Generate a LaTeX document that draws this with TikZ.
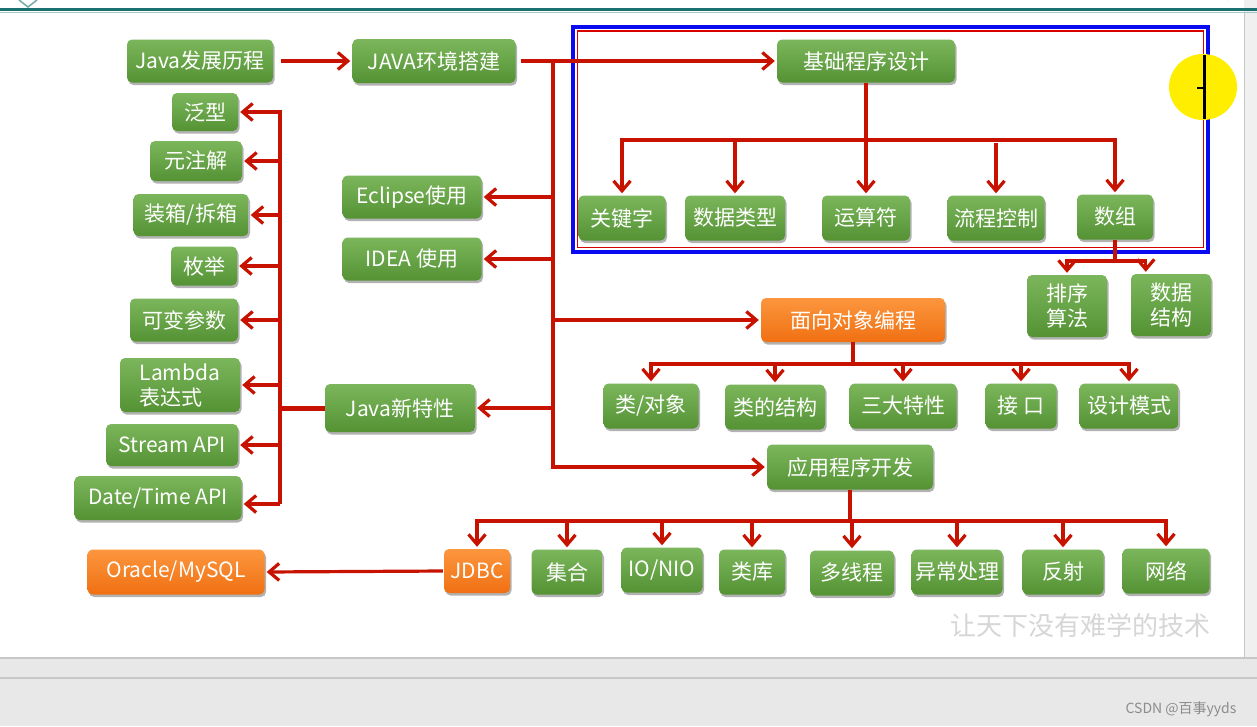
\documentclass[tikz,border=0pt]{standalone}
\usepackage{fontspec}
\newfontfamily\cjk{Noto Sans CJK SC}
\usetikzlibrary{arrows.meta,shadows,calc}
\definecolor{gtop}{RGB}{124,182,92}
\definecolor{gbot}{RGB}{84,146,52}
\definecolor{otop}{RGB}{252,150,62}
\definecolor{obot}{RGB}{240,112,18}
\definecolor{lred}{RGB}{200,18,0}
\definecolor{teal1}{RGB}{24,112,112}
\definecolor{bblue}{RGB}{10,10,240}
\definecolor{ylw}{RGB}{255,238,0}
\definecolor{thinred}{RGB}{215,0,0}
\tikzset{
 basebox/.style={rounded corners=5pt, inner sep=0pt, text=white,
   font=\cjk\fontsize{21}{25}\selectfont, align=center,
   drop shadow={shadow xshift=1.5pt, shadow yshift=-2.5pt, opacity=0.3, fill=black}},
 gbox/.style={basebox, top color=gtop, bottom color=gbot},
 obox/.style={basebox, top color=otop, bottom color=obot},
 ln/.style={draw=lred, line width=3.2pt},
 arr/.style={ln, -{Straight Barb[length=10pt,width=17pt]}, shorten >=2pt},
}
\begin{document}
\begin{tikzpicture}[x=1pt,y=-1pt]
\useasboundingbox (0,0) rectangle (1257,726);
% window chrome
\fill[white] (0,0) rectangle (1257,726);
\fill[black!6] (1244,0) rectangle (1257,658);
\draw[black!22, line width=1pt] (1244,12) -- (1244,658);
\fill[black!9] (0,658) rectangle (1257,726);
\draw[black!22, line width=1.2pt] (0,658) -- (1257,658);
\draw[black!22, line width=1.2pt] (0,678) -- (1257,678);
\draw[teal1, line width=3pt] (0,9) -- (1257,9);
\draw[teal1!40, line width=1pt] (0,12.5) -- (1257,12.5);
\draw[teal1!60, line width=1.5pt] (19,0) -- (28,7) -- (37,0);
\draw[teal1!35, line width=2pt] (1228,0) arc[start angle=180, end angle=360, x radius=9, y radius=4];
\node[font=\cjk\fontsize{14}{14}\selectfont, text=black!45] (csdn) at (1181,709) {CSDN @百事yyds};
\node[font=\cjk\fontsize{26}{26}\selectfont, text=black!16] (wm) at (1080,626) {让天下没有难学的技术};

% main column
\node[gbox, minimum width=146pt, minimum height=43pt] (jfz) at (200,61) {Java发展历程};
\node[gbox, minimum width=163pt, minimum height=44pt] (hj) at (434,61) {JAVA环境搭建};
\node[gbox, minimum width=139pt, minimum height=43pt] (ec) at (412,197) {Eclipse使用};
\node[gbox, minimum width=139pt, minimum height=43pt] (id) at (412,259) {IDEA 使用};
\node[gbox, minimum width=150pt, minimum height=48pt] (xt) at (400,408) {Java新特性};
\node[gbox, minimum width=178pt, minimum height=43pt] (jc) at (866,61) {基础程序设计};
\node[obox, minimum width=184pt, minimum height=44pt] (mx) at (853,320) {面向对象编程};
\node[gbox, minimum width=166pt, minimum height=45pt] (yy) at (850,467) {应用程序开发};

% basic programming
\node[gbox, minimum width=87pt, minimum height=45pt] (gj) at (622,218) {关键字};
\node[gbox, minimum width=100pt, minimum height=45pt] (sj) at (735,218) {数据类型};
\node[gbox, minimum width=88pt, minimum height=45pt] (ys) at (866,218) {运算符};
\node[gbox, minimum width=97pt, minimum height=45pt] (lc) at (996,218) {流程控制};
\node[gbox, minimum width=76pt, minimum height=45pt] (sz) at (1115,217) {数组};
\node[gbox, minimum width=80pt, minimum height=62pt] (px) at (1067,306) {排序\\算法};
\node[gbox, minimum width=80pt, minimum height=62pt] (jg) at (1171,305) {数据\\结构};

% OOP
\node[gbox, minimum width=95pt, minimum height=45pt] (ld) at (651,406) {类/对象};
\node[gbox, minimum width=100pt, minimum height=45pt] (lj) at (775,407) {类的结构};
\node[gbox, minimum width=107pt, minimum height=45pt] (sd) at (903,406) {三大特性};
\node[gbox, minimum width=71pt, minimum height=45pt] (jk) at (1021,406) {接 口};
\node[gbox, minimum width=99pt, minimum height=45pt] (sm) at (1129,406) {设计模式};

% application
\node[obox, minimum width=66pt, minimum height=44pt] (jdbc) at (477,571) {JDBC};
\node[gbox, minimum width=71pt, minimum height=45pt] (jh) at (567,572) {集合};
\node[gbox, minimum width=81pt, minimum height=45pt] (io) at (662,570) {IO/NIO};
\node[gbox, minimum width=66pt, minimum height=45pt] (lk) at (752,572) {类库};
\node[gbox, minimum width=84pt, minimum height=45pt] (dx) at (852,573) {多线程};
\node[gbox, minimum width=91pt, minimum height=45pt] (yc) at (957,572) {异常处理};
\node[gbox, minimum width=81pt, minimum height=45pt] (fs) at (1063,572) {反射};
\node[gbox, minimum width=87pt, minimum height=45pt] (wl) at (1166,571) {网络};
\node[obox, minimum width=177pt, minimum height=45pt] (ora) at (176,572) {Oracle/MySQL};

% new features
\node[gbox, minimum width=66pt, minimum height=38pt] (fx) at (205,112) {泛型};
\node[gbox, minimum width=92pt, minimum height=40pt] (yz) at (196,161) {元注解};
\node[gbox, minimum width=115pt, minimum height=42pt] (zx) at (191,215) {装箱/拆箱};
\node[gbox, minimum width=66pt, minimum height=39pt] (mj) at (204,266) {枚举};
\node[gbox, minimum width=108pt, minimum height=43pt] (kb) at (184,320) {可变参数};
\node[gbox, minimum width=120pt, minimum height=54pt, align=left] (lam) at (180,385) {Lambda\\表达式};
\node[gbox, minimum width=132pt, minimum height=42pt] (st) at (172,445) {Stream API};
\node[gbox, minimum width=167pt, minimum height=44pt] (dt) at (158,498) {Date/Time API};

% blue highlight
\draw[bblue, line width=4pt] (573,27) rectangle (1208,252);
\draw[thinred, line width=1.2pt] (577.5,31) rectangle (1203.5,247.5);

% connectors: main trunk
\draw[arr, shorten <=8pt] (jfz.east) -- (hj.west);
\coordinate (T) at (553,61);
\draw[ln, shorten <=5pt] (hj.east) -- (T);
\draw[arr] (T) -- (jc.west);
\draw[arr] (T) -- (T |- yy.west) -- (yy.west);
\draw[arr] (T |- ec.east) -- (ec.east);
\draw[arr] (T |- id.east) -- (id.east);
\draw[arr] (T |- mx.west) -- (mx.west);
\draw[arr] (T |- xt.east) -- (xt.east);

% basic programming tree
\coordinate (B1) at (866,140);
\draw[ln] (jc.south) -- (B1);
\draw[arr] (B1) -- (ys.north);
\draw[arr] (B1) -- (B1 -| gj.north) -- (gj.north);
\draw[arr] (B1) -- (B1 -| sz.north) -- (sz.north);
\draw[arr] (B1 -| sj.north) -- (sj.north);
\draw[arr] ($(B1 -| lc.north)+(0,3)$) -- (lc.north);

% array tree
\coordinate (B2) at (1115,261);
\coordinate (jgA) at ($(jg.north west)+(15,0)$);
\draw[ln] (sz.south) -- (B2);
\draw[arr] (B2) -- (B2 -| px.north) -- (px.north);
\draw[arr] (B2) -- (B2 -| jgA) -- (jgA);

% OOP tree
\coordinate (B3) at (853,364);
\draw[ln] (mx.south) -- (B3);
\draw[arr] (B3) -- (B3 -| ld.north) -- (ld.north);
\draw[arr] (B3) -- (B3 -| sm.north) -- (sm.north);
\draw[arr] (B3 -| lj.north) -- (lj.north);
\draw[arr] (B3 -| sd.north) -- (sd.north);
\draw[arr] (B3 -| jk.north) -- (jk.north);

% application tree
\coordinate (B4) at (850,521);
\draw[ln] (yy.south) -- (B4);
\draw[arr] (B4) -- (B4 -| jdbc.north) -- (jdbc.north);
\draw[arr] (B4) -- (B4 -| wl.north) -- (wl.north);
\draw[arr] (B4 -| jh.north) -- (jh.north);
\draw[arr] (B4 -| io.north) -- (io.north);
\draw[arr] (B4 -| lk.north) -- (lk.north);
\draw[arr] (B4 -| dx.north) -- (dx.north);
\draw[arr] (B4 -| yc.north) -- (yc.north);
\draw[arr] (B4 -| fs.north) -- (fs.north);
\draw[arr, shorten <=1pt] (jdbc.west) -- (ora.east);

% new features tree
\coordinate (Lt) at (280,112);
\coordinate (Lb) at (280,504);
\draw[ln, line width=5pt] (xt.west) -- (xt.west -| Lt);
\draw[arr] (Lb) -- (Lt) -- (fx.east);
\draw[arr] (Lb) -- (Lb -| dt.east);
\draw[arr] (Lt |- yz.east) -- (yz.east);
\draw[arr] (Lt |- zx.east) -- (zx.east);
\draw[arr] (Lt |- mj.east) -- (mj.east);
\draw[arr] (Lt |- kb.east) -- (kb.east);
\draw[arr] (Lt |- lam.east) -- (lam.east);
\draw[arr] (Lt |- st.east) -- (st.east);

% cursor highlight
\fill[ylw] (1203,87) ellipse [x radius=34, y radius=33];
\draw[black, line width=3pt] (1204,55) -- (1204,119);
\draw[black, line width=2pt] (1197,88) -- (1204,88);
\end{tikzpicture}
\end{document}
